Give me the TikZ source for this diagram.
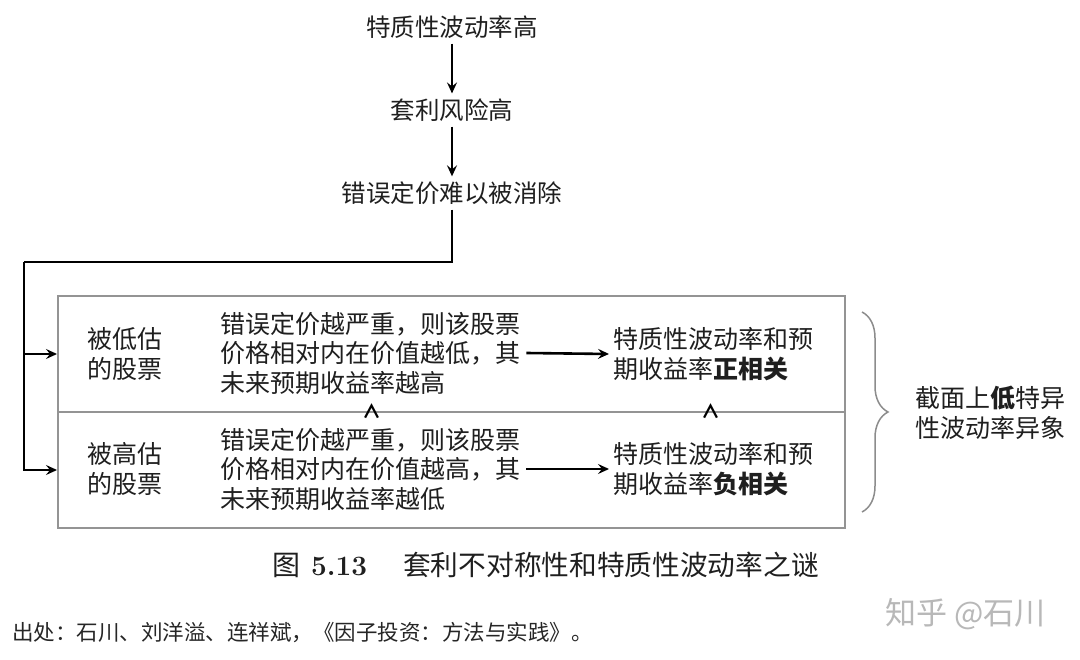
\documentclass[tikz,border=0pt]{standalone}
\usepackage{fontspec}
\newfontfamily\cjk{Noto Sans CJK SC}
\usetikzlibrary{arrows.meta,decorations.pathreplacing}
\begin{document}
\begin{tikzpicture}[x=1pt,y=-1pt,
  txt/.style={font=\cjk\fontsize{25}{29.5}\selectfont, text=black!88, inner sep=0pt, align=left},
  ttl/.style={font=\cjk\fontsize{24.5}{28}\selectfont, text=black!88, inner sep=5pt},
  rowbox/.style={draw=black!42, line width=2pt, minimum width=787pt, inner sep=0pt},
  conn/.style={line width=2.6pt, -{Stealth[length=11pt,width=10pt,inset=4pt]}},
  plainline/.style={line width=2.6pt},
  hat/.style={font=\cjk\bfseries\fontsize{19}{19}\selectfont, inner sep=0pt, text=black}]
\fill[white] (0,0) rectangle (1080,660);
\useasboundingbox (0,0) rectangle (1080,660);

% top chain
\node[ttl] (t1) at (452,27) {特质性波动率高};
\node[ttl] (t2) at (452,110) {套利风险高};
\node[ttl] (t3) at (452,193) {错误定价难以被消除};
\draw[conn] (t1) -- (t2);
\draw[conn] (t2) -- (t3);

% box rows
\node[rowbox, minimum height=116pt] (up) at (451.5,354) {};
\node[rowbox, minimum height=116pt] (lo) at (451.5,470) {};

% feed line
\coordinate (turn) at (24,262);
\draw[plainline] (t3.south) |- (turn);
\draw[conn] (turn) |- (lo.west);
\draw[conn] (turn |- up.west) -- (up.west);

% upper row
\node[txt, anchor=west] (ua) at (87,354) {被低估\\的股票};
\node[txt, anchor=west] (ub) at (220,353) {错误定价越严重，则该股票\\价格相对内在价值越低，其\\未来预期收益率越高};
\node[txt, anchor=west] (uc) at (613,354) {特质性波动率和预\\期收益率{\bfseries 正相关}};
\draw[conn] ([xshift=6pt]ub.east) -- ([xshift=-4pt]uc.west);

% lower row
\node[txt, anchor=west] (la) at (87,469) {被高估\\的股票};
\node[txt, anchor=west] (lb) at (220,469) {错误定价越严重，则该股票\\价格相对内在价值越高，其\\未来预期收益率越低};
\node[txt, anchor=west] (lc) at (613,469) {特质性波动率和预\\期收益率{\bfseries 负相关}};
\draw[conn] ([xshift=6pt]lb.east) -- ([xshift=-4pt]lc.west);

% wedges on the middle line
\node[hat] (h1) at (372,411) {∧};
\node[hat] (h2) at (711,411) {∧};

% brace and right label
\draw[black!45, line width=1.5pt, decorate, decoration={brace, amplitude=26pt, aspect=0.5}] (862,312) -- (862,512);
\node[txt, anchor=west] (rl) at (915,413) {截面上{\bfseries 低}特异\\性波动率异象};

% caption
\node[inner sep=0pt, anchor=west, text=black!88] (cap) at (272,565)
  {{\cjk\fontsize{28}{30}\selectfont 图}\hspace{11pt}{\rmfamily\bfseries\fontsize{28}{30}\selectfont 5.13}\hspace{36pt}{\cjk\fontsize{27.7}{30}\selectfont 套利不对称性和特质性波动率之谜}};

% source line
\node[inner sep=0pt, anchor=west, text=black!85, font=\cjk\fontsize{21.5}{24}\selectfont] (src) at (12,633)
  {出处：石川、刘洋溢、连祥斌，《因子投资：方法与实践》。};

% watermark
\node[inner sep=0pt, anchor=west, text=black!28, font=\cjk\fontsize{31}{33}\selectfont] (wm) at (885,614)
  {知乎 @石川};
\end{tikzpicture}
\end{document}
